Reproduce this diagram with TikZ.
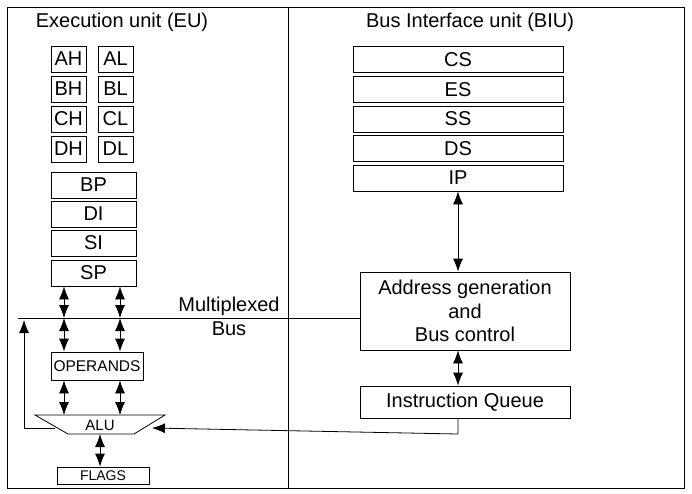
\documentclass[tikz,border=0pt]{standalone}
\usepackage{fontspec}
\setmainfont{Liberation Sans}
\usetikzlibrary{arrows.meta}
\begin{document}
\begin{tikzpicture}[x=1pt,y=-1pt,
 reg/.style={draw,thick,minimum height=26pt,inner sep=0pt,font=\fontsize{20}{20}\selectfont},
 arr/.style={{Latex[length=13pt,width=10pt]}-{Latex[length=13pt,width=10pt]},thick},
 ln/.style={draw,thick}]
\useasboundingbox (0,0) rectangle (692,493);
\draw[thick] (7,7) rectangle (684,488);
\draw[thick] (288,7) -- (288,488);
\node[font=\fontsize{20}{20}\selectfont] (eu) at (122,22) {Execution unit (EU)};
\node[font=\fontsize{20}{20}\selectfont] (biu) at (470,22) {Bus Interface unit (BIU)};
\foreach \l/\r/\y in {AH/AL/59,BH/BL/89,CH/CL/119,DH/DL/149}{
 \node[reg,minimum width=35pt] (\l) at (68.5,\y) {\l};
 \node[reg,minimum width=35pt] (\r) at (115.5,\y) {\r};}
\foreach \n/\y in {BP/185,DI/214,SI/243,SP/273}{
 \node[reg,minimum width=85pt] (\n) at (93.5,\y) {\n};}
\foreach \n/\y in {CS/59.5,ES/89.5,SS/119,DS/148.5,IP/178}{
 \node[reg,minimum width=210pt] (\n) at (458,\y) {\n};}
\node[reg,minimum width=210pt,minimum height=78pt,align=center,font=\fontsize{20}{23.5}\selectfont] (agb) at (465,311) {Address generation\\and\\Bus control};
\node[reg,minimum width=210pt,minimum height=32pt] (iq) at (465,402) {Instruction Queue};
\node[draw,thick,minimum width=92pt,minimum height=28pt,inner sep=0pt,font=\fontsize{15.5}{15.5}\selectfont] (op) at (97,366) {OPERANDS};
\node[draw,thick,minimum width=92pt,minimum height=17pt,inner sep=0pt,font=\fontsize{14}{14}\selectfont] (fl) at (103,475.5) {FLAGS};
\draw[thick] (35,415) -- (165,415) -- (134,434) -- (68,434) -- cycle;
\node[font=\fontsize{15}{15}\selectfont] (alu) at (100,425) {ALU};
\node[font=\fontsize{20}{20}\selectfont] (mb) at (229,306) {Multiplexed};
\node[font=\fontsize{20}{20}\selectfont] (mb2) at (229,329) {Bus};
\coordinate (bl) at (18,318);
\coordinate (b1) at (64,318);
\coordinate (b2) at (120,318);
\draw[thick] (bl) -- (agb.west |- bl);
\draw[arr] (SP.south -| b1) -- (b1);
\draw[arr] (SP.south -| b2) -- (b2);
\draw[arr] (b1) -- (op.north -| b1);
\draw[arr] (b2) -- (op.north -| b2);
\draw[arr] (op.south -| b1) -- (64,415);
\draw[arr] (op.south -| b2) -- (120,415);
\draw[arr] (100,434) -- (fl.north -| 100,0);
\draw[arr] (IP.south) -- (agb.north -| IP.south);
\draw[arr] (agb.south -| IP.south) -- (iq.north -| IP.south);
\draw[thick,-{Latex[length=13pt,width=10pt]}] (55,428) -- (24,428) -- (24,320);
\draw[thick,-{Latex[length=13pt,width=10pt]}] (iq.south -| IP.south) -- (458,434) -- (152,428);
\end{tikzpicture}
\end{document}
